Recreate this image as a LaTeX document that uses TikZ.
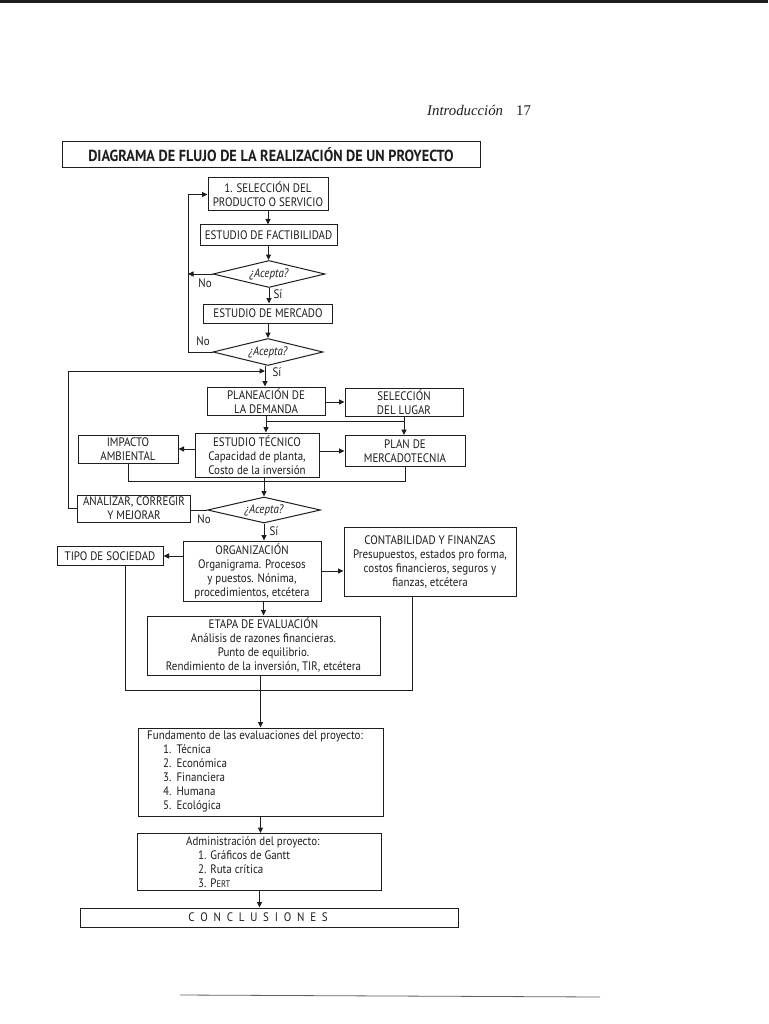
\documentclass[tikz,border=0pt]{standalone}
\usepackage{fontspec}
\setmainfont{PT Sans}[FakeStretch=0.89]
\newfontfamily\hdrfont{Liberation Serif}
\usetikzlibrary{arrows.meta,shapes.geometric,calc}
\definecolor{ink}{HTML}{1E1E1E}
\newcommand{\mfs}{\fontsize{12.3}{14}\selectfont}
\newcommand{\lsp}{\hspace{5.8pt}}
\begin{document}
\begin{tikzpicture}[x=1pt,y=-1pt,
  bx/.style={draw=ink,line width=1pt,inner sep=0pt,align=center,font=\mfs,text=ink},
  dm/.style={draw=ink,line width=1pt,diamond,aspect=4,inner sep=0pt,font=\mfs\itshape,text=ink},
  arr/.style={draw=ink,line width=1pt,-{Triangle[length=5.5pt,width=5pt]}},
  ln/.style={draw=ink,line width=1pt},
  lbl/.style={font=\mfs,text=ink,inner sep=0pt},
  txt/.style={font=\mfs,text=ink,inner sep=0pt,align=left,anchor=north west}]
\useasboundingbox (0,0) rectangle (768,1024);
\fill[white] (0,0) rectangle (768,1024);
% scan edges
\fill[ink] (0,0) rectangle (768,3);
\draw[ink!70,line width=0.8pt] (180,995) -- (600,997);

\node[lbl,font=\hdrfont\fontsize{14.8}{16}\selectfont,anchor=base west] (hdr) at (427,116) {\textit{Introducción}\hspace{13pt}17};

\node[bx,minimum width=418,minimum height=26,font=\fontsize{16}{17}\selectfont\bfseries] (title) at (271,155) {DIAGRAMA DE FLUJO DE LA REALIZACIÓN DE UN PROYECTO};

\node[bx,minimum width=120,minimum height=33] (b1) at (268,194.5) {1. SELECCIÓN DEL\\PRODUCTO O SERVICIO};
\node[bx,minimum width=137,minimum height=20] (b2) at (268.5,235) {ESTUDIO DE FACTIBILIDAD};
\node[dm,minimum width=112,minimum height=27] (d1) at (269,274) {¿Acepta?};
\node[bx,minimum width=129,minimum height=19] (b3) at (268,313.5) {ESTUDIO DE MERCADO};
\node[dm,minimum width=110,minimum height=27] (d2) at (268,352) {¿Acepta?};
\node[bx,minimum width=118,minimum height=28] (b4) at (266,401) {PLANEACIÓN DE\\LA DEMANDA};
\node[bx,minimum width=118,minimum height=28] (b5) at (404,402) {SELECCIÓN\\DEL LUGAR};
\node[bx,minimum width=100,minimum height=28] (b6) at (128,449) {IMPACTO\\AMBIENTAL};
\node[bx,minimum width=124,minimum height=44] (b7) at (257,455) {ESTUDIO TÉCNICO\\Capacidad de planta,\\Costo de la inversión};
\node[bx,minimum width=120,minimum height=31] (b8) at (405,451) {PLAN DE\\MERCADOTECNIA};
\node[dm,minimum width=113,minimum height=26] (d3) at (264,510) {¿Acepta?};
\node[bx,minimum width=113,minimum height=27] (b9) at (134,508.5) {ANALIZAR, CORREGIR\\Y MEJORAR};
\node[bx,minimum width=138,minimum height=60] (b10) at (252,571) {ORGANIZACIÓN\\Organigrama. Procesos\\y puestos. Nónima,\\procedimientos, etcétera};
\node[bx,minimum width=106,minimum height=19] (b11) at (110,556) {TIPO DE SOCIEDAD};
\node[bx,minimum width=172,minimum height=69] (b12) at (430,562) {CONTABILIDAD Y FINANZAS\\Presupuestos, estados pro forma,\\costos financieros, seguros y\\fianzas, etcétera};
\node[bx,minimum width=233,minimum height=59] (b13) at (263.5,645.5) {ETAPA DE EVALUACIÓN\\Análisis de razones financieras.\\Punto de equilibrio.\\Rendimiento de la inversión, TIR, etcétera};
\node[bx,minimum width=245,minimum height=88] (b14) at (260.5,772) {};
\node[txt] (t14) at (147,731) {Fundamento de las evaluaciones del proyecto:\\
\hspace{16pt}1.\hspace{5pt}Técnica\\
\hspace{16pt}2.\hspace{5pt}Económica\\
\hspace{16pt}3.\hspace{5pt}Financiera\\
\hspace{16pt}4.\hspace{5pt}Humana\\
\hspace{16pt}5.\hspace{5pt}Ecológica};
\node[bx,minimum width=244,minimum height=57] (b15) at (259.5,862) {};
\node[txt] (t15) at (186,836) {Administración del proyecto:\\
\hspace{12pt}1. Gráficos de Gantt\\
\hspace{12pt}2. Ruta crítica\\
\hspace{12pt}3. P{\fontsize{9.5}{10}\selectfont ERT}};
\node[bx,minimum width=378,minimum height=19] (b16) at (269,917.5) {C\lsp O\lsp N\lsp C\lsp L\lsp U\lsp S\lsp I\lsp O\lsp N\lsp E\lsp S\hspace{22pt}};

% helper coordinates
\coordinate (loopA) at (188,0);
\coordinate (loopB) at (68,0);
\coordinate (join2) at (265,371);
\coordinate (h1) at (0,421);
\coordinate (h2) at (0,481);
\coordinate (o1) at (125,690);
\coordinate (o2) at (412,690);

% spine
\draw[arr] (b1.south) -- (b1.south |- b2.north);
\draw[arr] (b2.south) -- (b2.south |- d1.north);
\draw[arr] (d1.south) -- (d1.south |- b3.north);
\draw[arr] (b3.south) -- (b3.south |- d2.north);
\draw[arr] (d2.south -| join2) -- (join2 |- b4.north);
\draw[arr] (b4.south) -- (b4.south |- b7.north);
\draw[arr] (d3.north |- b7.south) -- (d3.north);
\draw[arr] (d3.south) -- (d3.south |- b10.north);
\draw[arr] (b13.north |- b10.south) -- (b13.north);
\draw[arr] (b14.north |- b13.south) -- (b14.north);
\draw[arr] (b14.south) -- (b14.south |- b15.north);
\draw[arr] (b15.south) -- (b15.south |- b16.north);

% loops
\draw[arr] (d1.west) -- (d1.west -| loopA);
\draw[arr] (d2.west) -- (d2.west -| loopA) -- (loopA |- b1.west) -- (b1.west);
\draw[arr] (b9.west) -- (b9.west -| loopB) -- (loopB |- join2) -- (join2);
\draw[ln] (d3.west) -- (d3.west -| b9.east);

% side connections
\draw[arr] (b4.east |- b5.west) -- (b5.west);
\draw[ln] (b4.south |- h1) -- (b5.south |- h1);
\draw[arr] (b5.south) -- (b5.south |- b8.north);
\draw[arr] (b7.west |- b6.east) -- (b6.east);
\draw[arr] (b7.east |- b8.west) -- (b8.west);
\draw[ln] (b6.south) -- (b6.south |- h2) -- (b8.south |- h2) -- (b8.south);
\draw[arr] (b10.west |- b11.east) -- (b11.east);
\draw[arr] (b10.east) -- (b10.east -| b12.west);
\draw[ln] (b11.south -| o1) -- (o1) -- (o2) -- (b12.south -| o2);

% labels
\node[lbl] (no1) at (205,283) {No};
\node[lbl] (si1) at (278,294) {Sí};
\node[lbl] (no2) at (203,341) {No};
\node[lbl] (si2) at (277,372) {Sí};
\node[lbl] (no3) at (204,519) {No};
\node[lbl] (si3) at (274,531) {Sí};
\end{tikzpicture}
\end{document}
